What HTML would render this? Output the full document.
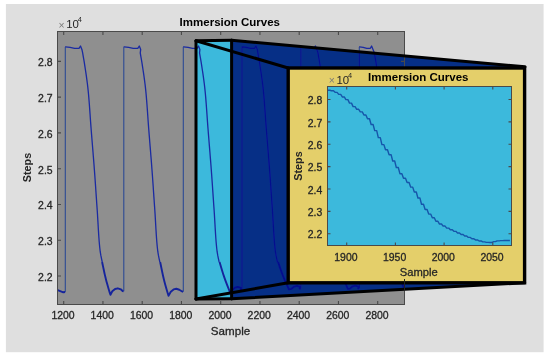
<!DOCTYPE html>
<html><head><meta charset="utf-8"><title>Immersion Curves</title>
<style>
html,body{margin:0;padding:0;background:#fff;}
svg{display:block;}
text{font-family:"Liberation Sans", Arial, sans-serif;}
.t{stroke:#262626;stroke-width:0.3px;}
</style></head><body>
<svg width="550" height="357" viewBox="0 0 550 357">
<rect x="0" y="0" width="550" height="357" fill="#ffffff"/>
<rect x="5.9" y="4" width="537.7" height="348.2" fill="#dfdfdf"/>
<rect x="57" y="31" width="348" height="274" fill="#8f8f8f"/>
<polygon points="231.6,40.2 525.0,66.8 524.7,282.8 231.6,298.8" fill="#062f86"/>
<polygon points="196.0,40.8 231.6,40.2 231.6,298.8 196.0,299.0" fill="#3cb9dc"/>
<clipPath id="cm"><rect x="58" y="32" width="346" height="272"/></clipPath>
<g clip-path="url(#cm)" fill="none" stroke-linejoin="round">
<path d="M65.30,292.00 L65.30,47.00 M123.80,291.30 L123.80,47.00 M183.30,291.75 L183.30,47.00 M242.00,289.95 L242.00,47.00 M300.90,288.82 L300.90,47.00 M359.30,288.60 L359.30,47.00" stroke="#2c4a94" stroke-width="1.1"/>
<path d="M65.30,47.00 L65.60,46.80 L70.07,47.40 L74.54,48.30 L79.01,48.30 L80.50,46.00 L81.90,49.43 L82.65,52.86 L83.23,56.29 L83.82,59.71 L84.40,63.14 L84.93,66.57 L85.45,70.00 L85.97,73.43 L86.47,76.86 L86.94,80.29 L87.39,83.71 L87.79,87.14 L88.16,90.57 L88.49,94.00 L88.79,97.43 L89.07,100.86 L89.34,104.29 L89.60,107.71 L89.84,111.14 L90.08,114.57 L90.32,118.00 L90.56,121.43 L90.81,124.86 L91.07,128.29 L91.34,131.71 L91.61,135.14 L91.89,138.57 L92.17,142.00 L92.45,145.43 L92.73,148.86 L93.01,152.29 L93.28,155.71 L93.56,159.14 L93.83,162.57 L94.10,166.00 L94.36,169.43 L94.61,172.86 L94.86,176.29 L95.11,179.71 L95.35,183.14 L95.59,186.57 L95.82,190.00 L96.06,193.43 L96.29,196.86 L96.53,200.29 L96.76,203.71 L97.00,207.14 L97.24,210.57 L97.47,214.00 L97.67,217.43 L97.87,220.86 L98.07,224.29 L98.26,227.71 L98.47,231.14 L98.68,234.57 L98.92,238.00 L99.18,241.43 L99.48,244.86 L99.82,248.29 L100.22,251.71 L100.80,255.14 L101.50,258.57 L102.25,262.00 M123.80,47.00 L124.10,46.80 L128.66,47.40 L133.22,48.30 L137.78,48.30 L139.30,46.00 L140.70,49.43 L140.25,52.86 L140.83,56.29 L141.42,59.71 L142.00,63.14 L142.53,66.57 L143.05,70.00 L143.57,73.43 L144.07,76.86 L144.54,80.29 L144.99,83.71 L145.39,87.14 L145.76,90.57 L146.09,94.00 L146.39,97.43 L146.67,100.86 L146.94,104.29 L147.20,107.71 L147.44,111.14 L147.68,114.57 L147.92,118.00 L148.16,121.43 L148.41,124.86 L148.67,128.29 L148.94,131.71 L149.21,135.14 L149.49,138.57 L149.77,142.00 L150.05,145.43 L150.33,148.86 L150.61,152.29 L150.88,155.71 L151.16,159.14 L151.43,162.57 L151.70,166.00 L151.96,169.43 L152.21,172.86 L152.46,176.29 L152.71,179.71 L152.95,183.14 L153.19,186.57 L153.42,190.00 L153.66,193.43 L153.89,196.86 L154.13,200.29 L154.36,203.71 L154.60,207.14 L154.84,210.57 L155.07,214.00 L155.27,217.43 L155.47,220.86 L155.67,224.29 L155.86,227.71 L156.07,231.14 L156.28,234.57 L156.52,238.00 L156.78,241.43 L157.08,244.86 L157.42,248.29 L157.82,251.71 L158.40,255.14 L159.10,258.57 L159.85,262.00 M183.30,47.00 L183.60,46.80 L188.07,47.40 L192.54,48.30 L197.01,48.30 L198.50,46.00 L199.90,49.43 L199.55,52.86 L200.13,56.29 L200.72,59.71 L201.30,63.14 L201.83,66.57 L202.35,70.00 L202.87,73.43 L203.37,76.86 L203.84,80.29 L204.29,83.71 L204.69,87.14 L205.06,90.57 L205.39,94.00 L205.69,97.43 L205.97,100.86 L206.24,104.29 L206.50,107.71 L206.74,111.14 L206.98,114.57 L207.22,118.00 L207.46,121.43 L207.71,124.86 L207.97,128.29 L208.24,131.71 L208.51,135.14 L208.79,138.57 L209.07,142.00 L209.35,145.43 L209.63,148.86 L209.91,152.29 L210.18,155.71 L210.46,159.14 L210.73,162.57 L211.00,166.00 L211.26,169.43 L211.51,172.86 L211.76,176.29 L212.01,179.71 L212.25,183.14 L212.49,186.57 L212.72,190.00 L212.96,193.43 L213.19,196.86 L213.43,200.29 L213.66,203.71 L213.90,207.14 L214.14,210.57 L214.37,214.00 L214.57,217.43 L214.77,220.86 L214.97,224.29 L215.16,227.71 L215.37,231.14 L215.58,234.57 L215.82,238.00 L216.08,241.43 L216.38,244.86 L216.72,248.29 L217.12,251.71 L217.70,255.14 L218.40,258.57 L219.15,262.00 M242.00,47.00 L242.27,46.80 L246.36,47.40 L250.45,48.30 L254.54,48.30 L255.90,46.00 L257.30,49.43 L257.85,52.86 L258.43,56.29 L259.02,59.71 L259.60,63.14 L260.13,66.57 L260.65,70.00 L261.17,73.43 L261.67,76.86 L262.14,80.29 L262.59,83.71 L262.99,87.14 L263.36,90.57 L263.69,94.00 L263.99,97.43 L264.27,100.86 L264.54,104.29 L264.80,107.71 L265.04,111.14 L265.28,114.57 L265.52,118.00 L265.76,121.43 L266.01,124.86 L266.27,128.29 L266.54,131.71 L266.81,135.14 L267.09,138.57 L267.37,142.00 L267.65,145.43 L267.93,148.86 L268.21,152.29 L268.48,155.71 L268.76,159.14 L269.03,162.57 L269.30,166.00 L269.56,169.43 L269.81,172.86 L270.06,176.29 L270.31,179.71 L270.55,183.14 L270.79,186.57 L271.02,190.00 L271.26,193.43 L271.49,196.86 L271.73,200.29 L271.96,203.71 L272.20,207.14 L272.44,210.57 L272.67,214.00 L272.87,217.43 L273.07,220.86 L273.27,224.29 L273.46,227.71 L273.67,231.14 L273.88,234.57 L274.12,238.00 L274.38,241.43 L274.68,244.86 L275.02,248.29 L275.42,251.71 L276.00,255.14 L276.70,258.57 L277.45,262.00 M300.90,47.00 L301.18,46.80 L305.45,47.40 L309.71,48.30 L313.98,48.30 L315.40,46.00 L316.80,49.43 L317.95,52.86 L318.53,56.29 L319.12,59.71 L319.70,63.14 L320.23,66.57 L320.75,70.00 L321.27,73.43 L321.77,76.86 L322.24,80.29 L322.69,83.71 L323.09,87.14 L323.46,90.57 L323.79,94.00 L324.09,97.43 L324.37,100.86 L324.64,104.29 L324.90,107.71 L325.14,111.14 L325.38,114.57 L325.62,118.00 L325.86,121.43 L326.11,124.86 L326.37,128.29 L326.64,131.71 L326.91,135.14 L327.19,138.57 L327.47,142.00 L327.75,145.43 L328.03,148.86 L328.31,152.29 L328.58,155.71 L328.86,159.14 L329.13,162.57 L329.40,166.00 L329.66,169.43 L329.91,172.86 L330.16,176.29 L330.41,179.71 L330.65,183.14 L330.89,186.57 L331.12,190.00 L331.36,193.43 L331.59,196.86 L331.83,200.29 L332.06,203.71 L332.30,207.14 L332.54,210.57 L332.77,214.00 L332.97,217.43 L333.17,220.86 L333.37,224.29 L333.56,227.71 L333.77,231.14 L333.98,234.57 L334.22,238.00 L334.48,241.43 L334.78,244.86 L335.12,248.29 L335.52,251.71 L336.10,255.14 L336.80,258.57 L337.55,262.00 M359.30,47.00 L359.54,46.80 L363.16,47.40 L366.78,48.30 L370.39,48.30 L371.60,46.00 L373.00,49.43 L374.35,52.86 L374.93,56.29 L375.52,59.71 L376.10,63.14 L376.63,66.57 L377.15,70.00 L377.67,73.43 L378.17,76.86 L378.64,80.29 L379.09,83.71 L379.49,87.14 L379.86,90.57 L380.19,94.00 L380.49,97.43 L380.77,100.86 L381.04,104.29 L381.30,107.71 L381.54,111.14 L381.78,114.57 L382.02,118.00 L382.26,121.43 L382.51,124.86 L382.77,128.29 L383.04,131.71 L383.31,135.14 L383.59,138.57 L383.87,142.00 L384.15,145.43 L384.43,148.86 L384.71,152.29 L384.98,155.71 L385.26,159.14 L385.53,162.57 L385.80,166.00 L386.06,169.43 L386.31,172.86 L386.56,176.29 L386.81,179.71 L387.05,183.14 L387.29,186.57 L387.52,190.00 L387.76,193.43 L387.99,196.86 L388.23,200.29 L388.46,203.71 L388.70,207.14 L388.94,210.57 L389.17,214.00 L389.37,217.43 L389.57,220.86 L389.77,224.29 L389.96,227.71 L390.17,231.14 L390.38,234.57 L390.62,238.00 L390.88,241.43 L391.18,244.86 L391.52,248.29 L391.92,251.71 L392.50,255.14 L393.20,258.57 L393.95,262.00" stroke="#1a2aa2" stroke-width="1.3"/>
<path d="M57.50,290.00 L63.30,292.30 L65.10,292.00 M102.10,262.00 L102.58,264.19 L103.03,266.37 L103.49,268.56 L103.96,270.75 L104.43,272.93 L104.92,275.12 L105.44,277.31 L105.97,279.49 L106.55,281.68 L107.15,283.87 L107.78,286.05 L108.42,288.24 L109.08,290.43 L109.75,292.61 L110.45,294.80 L112.30,291.30 L115.10,289.00 L117.80,288.30 L120.80,289.30 L122.60,291.00 L123.60,291.30 M160.15,262.00 L160.63,264.25 L161.08,266.51 L161.54,268.76 L162.01,271.01 L162.48,273.27 L162.97,275.52 L163.49,277.77 L164.02,280.03 L164.60,282.28 L165.20,284.53 L165.83,286.79 L166.47,289.04 L167.13,291.29 L167.80,293.55 L168.50,295.80 L170.80,291.75 L173.60,289.45 L176.30,288.75 L179.30,289.75 L182.10,291.45 L183.10,291.75 M219.55,262.00 L220.16,263.99 L220.75,265.97 L221.34,267.96 L221.94,269.95 L222.55,271.93 L223.17,273.92 L223.82,275.91 L224.49,277.89 L225.20,279.88 L225.94,281.87 L226.70,283.85 L227.47,285.84 L228.26,287.83 L229.07,289.81 L229.90,291.80 L232.30,289.95 L235.10,287.65 L237.80,286.95 L240.80,287.95 L240.80,289.65 L241.80,289.95 M278.05,262.00 L278.70,263.82 L279.32,265.64 L279.94,267.46 L280.57,269.28 L281.22,271.10 L281.87,272.92 L282.55,274.74 L283.26,276.56 L284.00,278.38 L284.77,280.20 L285.56,282.02 L286.37,283.84 L287.19,285.66 L288.04,287.48 L288.90,289.30 L291.50,288.82 L294.30,286.52 L297.00,285.82 L300.00,286.82 L299.70,288.52 L300.70,288.82 M337.55,262.00 L338.16,263.79 L338.75,265.57 L339.34,267.36 L339.94,269.15 L340.55,270.93 L341.17,272.72 L341.82,274.51 L342.49,276.29 L343.20,278.08 L343.94,279.87 L344.70,281.65 L345.47,283.44 L346.26,285.23 L347.07,287.01 L347.90,288.80 L349.90,288.60 L352.70,286.30 L355.40,285.60 L358.40,286.60 L358.10,288.30 L359.10,288.60 M394.95,262.00 L395.50,263.79 L396.02,265.57 L396.54,267.36 L397.07,269.15 L397.62,270.93 L398.17,272.72 L398.75,274.51 L399.36,276.29 L400.00,278.08 L400.67,279.87 L401.36,281.65 L402.07,283.44 L402.79,285.23 L403.54,287.01 L404.30,288.80 L407.30,288.60 L410.10,286.30 L412.80,285.60 L415.80,286.60 L416.90,288.30 L417.90,288.60" stroke="#16249c" stroke-width="1.9"/>
</g>
<clipPath id="cd"><polygon points="231.6,40.2 525.0,66.8 524.7,282.8 231.6,298.8"/></clipPath>
<g clip-path="url(#cd)" fill="none" stroke-linejoin="round"><g clip-path="url(#cm)">
<path d="M65.30,292.00 L65.30,47.00 M123.80,291.30 L123.80,47.00 M183.30,291.75 L183.30,47.00 M242.00,289.95 L242.00,47.00 M300.90,288.82 L300.90,47.00 M359.30,288.60 L359.30,47.00 M65.30,47.00 L65.60,46.80 L70.07,47.40 L74.54,48.30 L79.01,48.30 L80.50,46.00 L81.90,49.43 L82.65,52.86 L83.23,56.29 L83.82,59.71 L84.40,63.14 L84.93,66.57 L85.45,70.00 L85.97,73.43 L86.47,76.86 L86.94,80.29 L87.39,83.71 L87.79,87.14 L88.16,90.57 L88.49,94.00 L88.79,97.43 L89.07,100.86 L89.34,104.29 L89.60,107.71 L89.84,111.14 L90.08,114.57 L90.32,118.00 L90.56,121.43 L90.81,124.86 L91.07,128.29 L91.34,131.71 L91.61,135.14 L91.89,138.57 L92.17,142.00 L92.45,145.43 L92.73,148.86 L93.01,152.29 L93.28,155.71 L93.56,159.14 L93.83,162.57 L94.10,166.00 L94.36,169.43 L94.61,172.86 L94.86,176.29 L95.11,179.71 L95.35,183.14 L95.59,186.57 L95.82,190.00 L96.06,193.43 L96.29,196.86 L96.53,200.29 L96.76,203.71 L97.00,207.14 L97.24,210.57 L97.47,214.00 L97.67,217.43 L97.87,220.86 L98.07,224.29 L98.26,227.71 L98.47,231.14 L98.68,234.57 L98.92,238.00 L99.18,241.43 L99.48,244.86 L99.82,248.29 L100.22,251.71 L100.80,255.14 L101.50,258.57 L102.25,262.00 M123.80,47.00 L124.10,46.80 L128.66,47.40 L133.22,48.30 L137.78,48.30 L139.30,46.00 L140.70,49.43 L140.25,52.86 L140.83,56.29 L141.42,59.71 L142.00,63.14 L142.53,66.57 L143.05,70.00 L143.57,73.43 L144.07,76.86 L144.54,80.29 L144.99,83.71 L145.39,87.14 L145.76,90.57 L146.09,94.00 L146.39,97.43 L146.67,100.86 L146.94,104.29 L147.20,107.71 L147.44,111.14 L147.68,114.57 L147.92,118.00 L148.16,121.43 L148.41,124.86 L148.67,128.29 L148.94,131.71 L149.21,135.14 L149.49,138.57 L149.77,142.00 L150.05,145.43 L150.33,148.86 L150.61,152.29 L150.88,155.71 L151.16,159.14 L151.43,162.57 L151.70,166.00 L151.96,169.43 L152.21,172.86 L152.46,176.29 L152.71,179.71 L152.95,183.14 L153.19,186.57 L153.42,190.00 L153.66,193.43 L153.89,196.86 L154.13,200.29 L154.36,203.71 L154.60,207.14 L154.84,210.57 L155.07,214.00 L155.27,217.43 L155.47,220.86 L155.67,224.29 L155.86,227.71 L156.07,231.14 L156.28,234.57 L156.52,238.00 L156.78,241.43 L157.08,244.86 L157.42,248.29 L157.82,251.71 L158.40,255.14 L159.10,258.57 L159.85,262.00 M183.30,47.00 L183.60,46.80 L188.07,47.40 L192.54,48.30 L197.01,48.30 L198.50,46.00 L199.90,49.43 L199.55,52.86 L200.13,56.29 L200.72,59.71 L201.30,63.14 L201.83,66.57 L202.35,70.00 L202.87,73.43 L203.37,76.86 L203.84,80.29 L204.29,83.71 L204.69,87.14 L205.06,90.57 L205.39,94.00 L205.69,97.43 L205.97,100.86 L206.24,104.29 L206.50,107.71 L206.74,111.14 L206.98,114.57 L207.22,118.00 L207.46,121.43 L207.71,124.86 L207.97,128.29 L208.24,131.71 L208.51,135.14 L208.79,138.57 L209.07,142.00 L209.35,145.43 L209.63,148.86 L209.91,152.29 L210.18,155.71 L210.46,159.14 L210.73,162.57 L211.00,166.00 L211.26,169.43 L211.51,172.86 L211.76,176.29 L212.01,179.71 L212.25,183.14 L212.49,186.57 L212.72,190.00 L212.96,193.43 L213.19,196.86 L213.43,200.29 L213.66,203.71 L213.90,207.14 L214.14,210.57 L214.37,214.00 L214.57,217.43 L214.77,220.86 L214.97,224.29 L215.16,227.71 L215.37,231.14 L215.58,234.57 L215.82,238.00 L216.08,241.43 L216.38,244.86 L216.72,248.29 L217.12,251.71 L217.70,255.14 L218.40,258.57 L219.15,262.00 M242.00,47.00 L242.27,46.80 L246.36,47.40 L250.45,48.30 L254.54,48.30 L255.90,46.00 L257.30,49.43 L257.85,52.86 L258.43,56.29 L259.02,59.71 L259.60,63.14 L260.13,66.57 L260.65,70.00 L261.17,73.43 L261.67,76.86 L262.14,80.29 L262.59,83.71 L262.99,87.14 L263.36,90.57 L263.69,94.00 L263.99,97.43 L264.27,100.86 L264.54,104.29 L264.80,107.71 L265.04,111.14 L265.28,114.57 L265.52,118.00 L265.76,121.43 L266.01,124.86 L266.27,128.29 L266.54,131.71 L266.81,135.14 L267.09,138.57 L267.37,142.00 L267.65,145.43 L267.93,148.86 L268.21,152.29 L268.48,155.71 L268.76,159.14 L269.03,162.57 L269.30,166.00 L269.56,169.43 L269.81,172.86 L270.06,176.29 L270.31,179.71 L270.55,183.14 L270.79,186.57 L271.02,190.00 L271.26,193.43 L271.49,196.86 L271.73,200.29 L271.96,203.71 L272.20,207.14 L272.44,210.57 L272.67,214.00 L272.87,217.43 L273.07,220.86 L273.27,224.29 L273.46,227.71 L273.67,231.14 L273.88,234.57 L274.12,238.00 L274.38,241.43 L274.68,244.86 L275.02,248.29 L275.42,251.71 L276.00,255.14 L276.70,258.57 L277.45,262.00 M300.90,47.00 L301.18,46.80 L305.45,47.40 L309.71,48.30 L313.98,48.30 L315.40,46.00 L316.80,49.43 L317.95,52.86 L318.53,56.29 L319.12,59.71 L319.70,63.14 L320.23,66.57 L320.75,70.00 L321.27,73.43 L321.77,76.86 L322.24,80.29 L322.69,83.71 L323.09,87.14 L323.46,90.57 L323.79,94.00 L324.09,97.43 L324.37,100.86 L324.64,104.29 L324.90,107.71 L325.14,111.14 L325.38,114.57 L325.62,118.00 L325.86,121.43 L326.11,124.86 L326.37,128.29 L326.64,131.71 L326.91,135.14 L327.19,138.57 L327.47,142.00 L327.75,145.43 L328.03,148.86 L328.31,152.29 L328.58,155.71 L328.86,159.14 L329.13,162.57 L329.40,166.00 L329.66,169.43 L329.91,172.86 L330.16,176.29 L330.41,179.71 L330.65,183.14 L330.89,186.57 L331.12,190.00 L331.36,193.43 L331.59,196.86 L331.83,200.29 L332.06,203.71 L332.30,207.14 L332.54,210.57 L332.77,214.00 L332.97,217.43 L333.17,220.86 L333.37,224.29 L333.56,227.71 L333.77,231.14 L333.98,234.57 L334.22,238.00 L334.48,241.43 L334.78,244.86 L335.12,248.29 L335.52,251.71 L336.10,255.14 L336.80,258.57 L337.55,262.00 M359.30,47.00 L359.54,46.80 L363.16,47.40 L366.78,48.30 L370.39,48.30 L371.60,46.00 L373.00,49.43 L374.35,52.86 L374.93,56.29 L375.52,59.71 L376.10,63.14 L376.63,66.57 L377.15,70.00 L377.67,73.43 L378.17,76.86 L378.64,80.29 L379.09,83.71 L379.49,87.14 L379.86,90.57 L380.19,94.00 L380.49,97.43 L380.77,100.86 L381.04,104.29 L381.30,107.71 L381.54,111.14 L381.78,114.57 L382.02,118.00 L382.26,121.43 L382.51,124.86 L382.77,128.29 L383.04,131.71 L383.31,135.14 L383.59,138.57 L383.87,142.00 L384.15,145.43 L384.43,148.86 L384.71,152.29 L384.98,155.71 L385.26,159.14 L385.53,162.57 L385.80,166.00 L386.06,169.43 L386.31,172.86 L386.56,176.29 L386.81,179.71 L387.05,183.14 L387.29,186.57 L387.52,190.00 L387.76,193.43 L387.99,196.86 L388.23,200.29 L388.46,203.71 L388.70,207.14 L388.94,210.57 L389.17,214.00 L389.37,217.43 L389.57,220.86 L389.77,224.29 L389.96,227.71 L390.17,231.14 L390.38,234.57 L390.62,238.00 L390.88,241.43 L391.18,244.86 L391.52,248.29 L391.92,251.71 L392.50,255.14 L393.20,258.57 L393.95,262.00" stroke="#030e8c" stroke-width="1.2"/>
<path d="M57.50,290.00 L63.30,292.30 L65.10,292.00 M102.10,262.00 L102.58,264.19 L103.03,266.37 L103.49,268.56 L103.96,270.75 L104.43,272.93 L104.92,275.12 L105.44,277.31 L105.97,279.49 L106.55,281.68 L107.15,283.87 L107.78,286.05 L108.42,288.24 L109.08,290.43 L109.75,292.61 L110.45,294.80 L112.30,291.30 L115.10,289.00 L117.80,288.30 L120.80,289.30 L122.60,291.00 L123.60,291.30 M160.15,262.00 L160.63,264.25 L161.08,266.51 L161.54,268.76 L162.01,271.01 L162.48,273.27 L162.97,275.52 L163.49,277.77 L164.02,280.03 L164.60,282.28 L165.20,284.53 L165.83,286.79 L166.47,289.04 L167.13,291.29 L167.80,293.55 L168.50,295.80 L170.80,291.75 L173.60,289.45 L176.30,288.75 L179.30,289.75 L182.10,291.45 L183.10,291.75 M219.55,262.00 L220.16,263.99 L220.75,265.97 L221.34,267.96 L221.94,269.95 L222.55,271.93 L223.17,273.92 L223.82,275.91 L224.49,277.89 L225.20,279.88 L225.94,281.87 L226.70,283.85 L227.47,285.84 L228.26,287.83 L229.07,289.81 L229.90,291.80 L232.30,289.95 L235.10,287.65 L237.80,286.95 L240.80,287.95 L240.80,289.65 L241.80,289.95 M278.05,262.00 L278.70,263.82 L279.32,265.64 L279.94,267.46 L280.57,269.28 L281.22,271.10 L281.87,272.92 L282.55,274.74 L283.26,276.56 L284.00,278.38 L284.77,280.20 L285.56,282.02 L286.37,283.84 L287.19,285.66 L288.04,287.48 L288.90,289.30 L291.50,288.82 L294.30,286.52 L297.00,285.82 L300.00,286.82 L299.70,288.52 L300.70,288.82 M337.55,262.00 L338.16,263.79 L338.75,265.57 L339.34,267.36 L339.94,269.15 L340.55,270.93 L341.17,272.72 L341.82,274.51 L342.49,276.29 L343.20,278.08 L343.94,279.87 L344.70,281.65 L345.47,283.44 L346.26,285.23 L347.07,287.01 L347.90,288.80 L349.90,288.60 L352.70,286.30 L355.40,285.60 L358.40,286.60 L358.10,288.30 L359.10,288.60 M394.95,262.00 L395.50,263.79 L396.02,265.57 L396.54,267.36 L397.07,269.15 L397.62,270.93 L398.17,272.72 L398.75,274.51 L399.36,276.29 L400.00,278.08 L400.67,279.87 L401.36,281.65 L402.07,283.44 L402.79,285.23 L403.54,287.01 L404.30,288.80 L407.30,288.60 L410.10,286.30 L412.80,285.60 L415.80,286.60 L416.90,288.30 L417.90,288.60" stroke="#030e8c" stroke-width="1.8"/>
</g></g>
<rect x="57.5" y="31.5" width="347" height="273" fill="none" stroke="#4a4a4a" stroke-width="1"/>
<path d="M63.70,304 v-3 M63.70,32 v3 M102.95,304 v-3 M102.95,32 v3 M142.20,304 v-3 M142.20,32 v3 M181.45,304 v-3 M181.45,32 v3 M220.70,304 v-3 M220.70,32 v3 M259.95,304 v-3 M259.95,32 v3 M299.20,304 v-3 M299.20,32 v3 M338.45,304 v-3 M338.45,32 v3 M377.70,304 v-3 M377.70,32 v3 M58,276.00 h3 M404,276.00 h-3 M58,240.23 h3 M404,240.23 h-3 M58,204.46 h3 M404,204.46 h-3 M58,168.69 h3 M404,168.69 h-3 M58,132.92 h3 M404,132.92 h-3 M58,97.15 h3 M404,97.15 h-3 M58,61.38 h3 M404,61.38 h-3" stroke="#4a4a4a" stroke-width="1.1" fill="none"/>
<text x="63.0" y="319.4" font-size="10.45" text-anchor="middle" fill="#262626" class="t">1200</text>
<text x="102.2" y="319.4" font-size="10.45" text-anchor="middle" fill="#262626" class="t">1400</text>
<text x="141.5" y="319.4" font-size="10.45" text-anchor="middle" fill="#262626" class="t">1600</text>
<text x="180.8" y="319.4" font-size="10.45" text-anchor="middle" fill="#262626" class="t">1800</text>
<text x="220.0" y="319.4" font-size="10.45" text-anchor="middle" fill="#262626" class="t">2000</text>
<text x="259.2" y="319.4" font-size="10.45" text-anchor="middle" fill="#262626" class="t">2200</text>
<text x="298.5" y="319.4" font-size="10.45" text-anchor="middle" fill="#262626" class="t">2400</text>
<text x="337.8" y="319.4" font-size="10.45" text-anchor="middle" fill="#262626" class="t">2600</text>
<text x="377.0" y="319.4" font-size="10.45" text-anchor="middle" fill="#262626" class="t">2800</text>
<text x="52.6" y="280.9" font-size="10.45" text-anchor="end" fill="#262626" class="t">2.2</text>
<text x="52.6" y="245.1" font-size="10.45" text-anchor="end" fill="#262626" class="t">2.3</text>
<text x="52.6" y="209.4" font-size="10.45" text-anchor="end" fill="#262626" class="t">2.4</text>
<text x="52.6" y="173.6" font-size="10.45" text-anchor="end" fill="#262626" class="t">2.5</text>
<text x="52.6" y="137.8" font-size="10.45" text-anchor="end" fill="#262626" class="t">2.6</text>
<text x="52.6" y="102.1" font-size="10.45" text-anchor="end" fill="#262626" class="t">2.7</text>
<text x="52.6" y="66.3" font-size="10.45" text-anchor="end" fill="#262626" class="t">2.8</text>
<text x="229.8" y="25.8" font-size="11.5" font-weight="bold" text-anchor="middle" fill="#000">Immersion Curves</text>
<text x="230.5" y="334.6" font-size="11.6" text-anchor="middle" fill="#262626" class="t">Sample</text>
<text transform="translate(31.2,167.5) rotate(-90)" font-size="10.8" font-weight="bold" text-anchor="middle" fill="#262626">Steps</text>
<text x="58.6" y="28.6" font-size="10.4" fill="#7a7a7a">×</text>
<text x="66.2" y="28.0" font-size="11.4" fill="#262626">10</text>
<text x="77.7" y="22.2" font-size="7.4" fill="#262626">4</text>
<line x1="196.0" y1="40.8" x2="231.6" y2="40.2" stroke="#000" stroke-width="3.0" stroke-linecap="round"/>
<line x1="231.6" y1="40.2" x2="231.6" y2="298.8" stroke="#000" stroke-width="3.0" stroke-linecap="round"/>
<line x1="231.6" y1="298.8" x2="196.0" y2="299.0" stroke="#000" stroke-width="3.0" stroke-linecap="round"/>
<line x1="196.0" y1="299.0" x2="196.0" y2="40.8" stroke="#000" stroke-width="3.0" stroke-linecap="round"/>
<line x1="196.0" y1="40.8" x2="288.2" y2="68.0" stroke="#000" stroke-width="3.0" stroke-linecap="round"/>
<line x1="231.6" y1="40.2" x2="525.0" y2="66.8" stroke="#000" stroke-width="3.0" stroke-linecap="round"/>
<line x1="196.0" y1="299.0" x2="288.2" y2="282.8" stroke="#000" stroke-width="3.0" stroke-linecap="round"/>
<line x1="231.6" y1="298.8" x2="524.7" y2="282.8" stroke="#000" stroke-width="3.0" stroke-linecap="round"/>
<rect x="288.2" y="68" width="236.4" height="214.8" fill="#e4cf6a" stroke="#000" stroke-width="3.4"/>
<rect x="328" y="87" width="183" height="158" fill="#3cb9dc"/>
<clipPath id="ci"><rect x="328" y="87" width="183" height="158"/></clipPath>
<path d="M327.90,90.23 L329.90,90.23 L331.50,90.81 L333.50,90.81 L335.10,92.36 L337.10,92.36 L338.70,94.34 L340.70,94.34 L342.30,96.94 L344.30,96.94 L345.90,99.64 L347.90,99.64 L349.50,103.10 L351.50,103.10 L353.10,106.61 L355.10,106.61 L356.70,109.30 L358.70,109.30 L360.30,111.84 L362.30,111.84 L363.90,115.00 L365.90,115.00 L367.50,118.78 L369.50,118.78 L371.10,124.45 L373.10,124.45 L374.70,130.58 L376.70,130.58 L378.30,137.60 L380.30,137.60 L381.90,144.62 L383.90,144.62 L385.50,149.78 L387.50,149.78 L389.10,154.68 L391.10,154.68 L392.70,160.97 L394.70,160.97 L396.30,167.54 L398.30,167.54 L399.90,173.68 L401.90,173.68 L403.50,178.29 L405.50,178.29 L407.10,182.49 L409.10,182.49 L410.70,187.15 L412.70,187.15 L414.30,191.99 L416.30,191.99 L417.90,197.95 L419.90,197.95 L421.50,204.24 L423.50,204.24 L425.10,209.48 L427.10,209.48 L428.70,214.08 L430.70,214.08 L432.30,217.70 L434.30,217.70 L435.90,221.30 L437.90,221.30 L439.50,224.03 L441.50,224.03 L443.10,226.07 L445.10,226.07 L446.70,228.09 L448.70,228.09 L450.30,229.77 L452.30,229.77 L453.90,231.35 L455.90,231.35 L457.50,232.93 L459.50,232.93 L461.10,234.47 L463.10,234.47 L464.70,235.93 L466.70,235.93 L468.30,237.40 L470.30,237.40 L471.90,238.82 L473.90,238.82 L475.50,239.93 L477.50,239.93 L479.10,240.98 L481.10,240.98 L482.70,241.89 L484.70,241.89 L486.30,242.39 L488.30,242.39 L489.90,242.57 L491.90,242.57 L493.50,241.66 L495.50,241.66 L497.10,240.84 L499.10,240.84 L500.70,240.67 L502.70,240.67 L504.30,240.55 L506.30,240.55 L507.90,240.44 L509.90,240.44" fill="none" stroke="#1656aa" stroke-width="1.4" stroke-linejoin="round" clip-path="url(#ci)"/>
<rect x="327.5" y="86.5" width="184" height="159" fill="none" stroke="#4a4a4a" stroke-width="1"/>
<path d="M346.70,245 v-2.5 M346.70,87 v2.5 M395.40,245 v-2.5 M395.40,87 v2.5 M444.10,245 v-2.5 M444.10,87 v2.5 M492.80,245 v-2.5 M492.80,87 v2.5 M328,233.72 h2.5 M511,233.72 h-2.5 M328,211.35 h2.5 M511,211.35 h-2.5 M328,188.98 h2.5 M511,188.98 h-2.5 M328,166.61 h2.5 M511,166.61 h-2.5 M328,144.24 h2.5 M511,144.24 h-2.5 M328,121.87 h2.5 M511,121.87 h-2.5 M328,99.50 h2.5 M511,99.50 h-2.5" stroke="#4a4a4a" stroke-width="1.1" fill="none"/>
<text x="345.9" y="260.8" font-size="10.45" text-anchor="middle" fill="#262626" class="t">1900</text>
<text x="394.6" y="260.8" font-size="10.45" text-anchor="middle" fill="#262626" class="t">1950</text>
<text x="443.3" y="260.8" font-size="10.45" text-anchor="middle" fill="#262626" class="t">2000</text>
<text x="492.0" y="260.8" font-size="10.45" text-anchor="middle" fill="#262626" class="t">2050</text>
<text x="322.3" y="238.3" font-size="10.45" text-anchor="end" fill="#262626" class="t">2.2</text>
<text x="322.3" y="215.9" font-size="10.45" text-anchor="end" fill="#262626" class="t">2.3</text>
<text x="322.3" y="193.6" font-size="10.45" text-anchor="end" fill="#262626" class="t">2.4</text>
<text x="322.3" y="171.2" font-size="10.45" text-anchor="end" fill="#262626" class="t">2.5</text>
<text x="322.3" y="148.8" font-size="10.45" text-anchor="end" fill="#262626" class="t">2.6</text>
<text x="322.3" y="126.5" font-size="10.45" text-anchor="end" fill="#262626" class="t">2.7</text>
<text x="322.3" y="104.1" font-size="10.45" text-anchor="end" fill="#262626" class="t">2.8</text>
<text x="418.3" y="81.1" font-size="11.5" font-weight="bold" text-anchor="middle" fill="#000">Immersion Curves</text>
<text x="418.7" y="275.6" font-size="11.2" text-anchor="middle" fill="#262626" class="t">Sample</text>
<text transform="translate(301.5,166) rotate(-90)" font-size="10.8" font-weight="bold" text-anchor="middle" fill="#262626">Steps</text>
<text x="328.8" y="84.3" font-size="10.4" fill="#7a7a7a">×</text>
<text x="336.4" y="83.7" font-size="11.4" fill="#262626">10</text>
<text x="347.9" y="77.9" font-size="7.4" fill="#262626">4</text>
<line x1="404.5" y1="279" x2="404.5" y2="291" stroke="#222" stroke-width="1"/>
</svg></body></html>
